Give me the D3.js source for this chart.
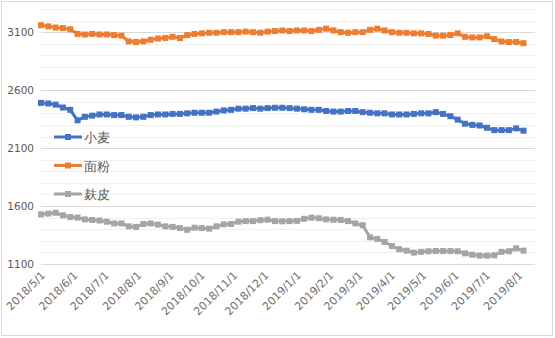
<!DOCTYPE html>
<html>
<head>
<meta charset="utf-8">
<script src="https://cdn.jsdelivr.net/npm/d3@7"></script>
<style>
  body { margin: 0; background: #fff; }
  text { font-family: "DejaVu Sans", sans-serif; fill: #595959; }
</style>
</head>
<body>
<svg id="chart" width="555" height="338"></svg>
<script>
var w = 555;
var h = 338;

// weekly dates
var dates = [
  "2018-05-01","2018-05-08","2018-05-15","2018-05-22","2018-05-29","2018-06-05","2018-06-12","2018-06-19","2018-06-26",
  "2018-07-03","2018-07-10","2018-07-17","2018-07-24","2018-07-31","2018-08-07","2018-08-14","2018-08-21","2018-08-28",
  "2018-09-04","2018-09-11","2018-09-18","2018-09-25","2018-10-02","2018-10-09","2018-10-16","2018-10-23","2018-10-30",
  "2018-11-06","2018-11-13","2018-11-20","2018-11-27","2018-12-04","2018-12-11","2018-12-18","2018-12-25",
  "2019-01-01","2019-01-08","2019-01-15","2019-01-22","2019-01-29","2019-02-05","2019-02-12","2019-02-19","2019-02-26",
  "2019-03-05","2019-03-12","2019-03-19","2019-03-26","2019-04-02","2019-04-09","2019-04-16","2019-04-23","2019-04-30",
  "2019-05-07","2019-05-14","2019-05-21","2019-05-28","2019-06-04","2019-06-11","2019-06-18","2019-06-25",
  "2019-07-02","2019-07-09","2019-07-16","2019-07-23","2019-07-30","2019-08-06"
];

var wheat = [2490,2485,2475,2450,2430,2340,2370,2380,2390,2390,2385,2385,2370,2365,2370,2385,2390,2390,2395,2395,
  2400,2405,2405,2405,2415,2425,2430,2440,2440,2445,2440,2445,2448,2448,2445,2440,2435,2430,2430,2420,
  2415,2415,2420,2420,2410,2405,2400,2400,2390,2390,2390,2395,2400,2400,2410,2395,2375,2345,2310,2300,
  2295,2275,2255,2255,2255,2270,2250];

var flour = [3160,3150,3140,3135,3125,3085,3080,3085,3080,3080,3075,3070,3020,3015,3020,3035,3045,3050,3060,3050,
  3075,3085,3090,3095,3095,3100,3100,3100,3105,3100,3095,3105,3110,3115,3110,3115,3115,3110,3120,3130,
  3115,3100,3095,3100,3100,3120,3130,3115,3100,3095,3095,3090,3090,3085,3070,3070,3075,3090,3060,3055,
  3055,3065,3040,3020,3015,3015,3005];

var bran = [1528,1535,1542,1520,1505,1500,1485,1480,1475,1465,1450,1450,1425,1420,1445,1450,1440,1425,1420,1410,
  1395,1413,1410,1405,1425,1442,1445,1465,1470,1470,1478,1482,1470,1468,1470,1472,1490,1500,1495,1485,
  1482,1480,1470,1450,1435,1330,1315,1290,1255,1228,1215,1198,1205,1210,1212,1212,1212,1210,1192,1180,
  1172,1172,1175,1205,1210,1235,1215];

var seriesNames = ["小麦", "面粉", "麸皮"];
var colors = ["#4472C4", "#ED7D31", "#A5A5A5"];

var tickLabels = ["2018/5/1","2018/6/1","2018/7/1","2018/8/1","2018/9/1","2018/10/1","2018/11/1","2018/12/1",
  "2019/1/1","2019/2/1","2019/3/1","2019/4/1","2019/5/1","2019/6/1","2019/7/1","2019/8/1"];
var yTicks = [1100, 1600, 2100, 2600, 3100];

var parseDay = d3.timeParse("%Y-%m-%d");
var parseTick = d3.timeParse("%Y/%m/%d");

var svg = d3.select("#chart");

// outer chart border
svg.append("rect")
  .attr("x", 1.5).attr("y", 1.5)
  .attr("width", w - 4).attr("height", h - 4)
  .attr("fill", "none")
  .attr("stroke", "#d9d9d9");

var padLeft = 41, padRight = 535, padTop = 9, padBottom = 264;

var x = d3.scaleTime()
  .domain([parseDay("2018-05-01"), parseDay("2019-08-17")])
  .range([padLeft, padRight]);

var y = d3.scaleLinear()
  .domain([1100, 3300])
  .range([padBottom, padTop]);

// minor grid every 100
svg.append("g")
  .selectAll("line")
  .data(d3.range(1200, 3301, 100).filter(function (v) { return (v - 1100) % 500 !== 0; }))
  .enter()
  .append("line")
  .attr("x1", padLeft).attr("x2", padRight)
  .attr("y1", function (d) { return Math.round(y(d)) + 0.5; })
  .attr("y2", function (d) { return Math.round(y(d)) + 0.5; })
  .attr("stroke", "#f0f0f0");

// major grid
svg.append("g")
  .selectAll("line")
  .data(yTicks)
  .enter()
  .append("line")
  .attr("x1", padLeft).attr("x2", padRight)
  .attr("y1", function (d) { return Math.round(y(d)) + 0.5; })
  .attr("y2", function (d) { return Math.round(y(d)) + 0.5; })
  .attr("stroke", "#d9d9d9");

// y labels
svg.append("g")
  .selectAll("text")
  .data(yTicks)
  .enter()
  .append("text")
  .text(function (d) { return d; })
  .attr("x", 34)
  .attr("y", function (d) { return y(d) + 4; })
  .attr("text-anchor", "end")
  .attr("font-size", 10.5);

// x labels, rotated
svg.append("g")
  .selectAll("text")
  .data(tickLabels)
  .enter()
  .append("text")
  .text(function (d) { return d; })
  .attr("transform", function (d) {
    return "translate(" + (x(parseTick(d)) + 5) + "," + (padBottom + 12) + ") rotate(-45)";
  })
  .attr("text-anchor", "end")
  .attr("font-size", 11)
  .style("fill", "#707070");

var allSeries = [wheat, flour, bran];

var line = d3.line()
  .x(function (d, i) { return x(parseDay(dates[i])); })
  .y(function (d) { return y(d); });

// draw bran first so blue/orange sit on top like the original
[2, 1, 0].forEach(function (k) {
  var vals = allSeries[k];
  svg.append("path")
    .datum(vals)
    .attr("d", line)
    .attr("fill", "none")
    .attr("stroke", colors[k])
    .attr("stroke-width", 3)
    .attr("stroke-linejoin", "round");

  svg.append("g")
    .selectAll("rect")
    .data(vals)
    .enter()
    .append("rect")
    .attr("x", function (d, i) { return x(parseDay(dates[i])) - 3; })
    .attr("y", function (d) { return y(d) - 3; })
    .attr("width", 6)
    .attr("height", 6)
    .attr("fill", colors[k]);
});

// legend
var legend = svg.append("g")
  .selectAll("g")
  .data(seriesNames)
  .enter()
  .append("g")
  .attr("transform", function (d, i) { return "translate(54," + (137 + i * 28.5) + ")"; });

legend.append("line")
  .attr("x1", 0).attr("x2", 28)
  .attr("y1", 0).attr("y2", 0)
  .attr("stroke", function (d, i) { return colors[i]; })
  .attr("stroke-width", 3);

legend.append("rect")
  .attr("x", 11).attr("y", -3)
  .attr("width", 6).attr("height", 6)
  .attr("fill", function (d, i) { return colors[i]; });

legend.append("text")
  .text(function (d) { return d; })
  .attr("x", 30)
  .attr("y", 5)
  .attr("font-family", "Noto Sans CJK SC")
  .attr("font-size", 12.5);
</script>
</body>
</html>
